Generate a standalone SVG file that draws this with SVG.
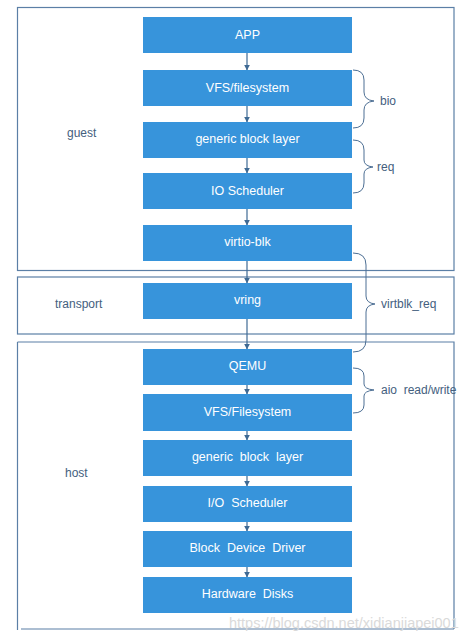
<svg xmlns="http://www.w3.org/2000/svg" width="474" height="641" viewBox="0 0 474 641">
<defs>
<style>
.sec{fill:none;stroke:#5b7fa6;stroke-width:1.2}
.box{fill:#3794db}
.bt{fill:#ffffff;font-family:"Liberation Sans",Arial,sans-serif;font-size:12.5px;text-anchor:middle;dominant-baseline:central}
.lb{fill:#44607e;font-family:"Liberation Sans",Arial,sans-serif;font-size:12px;dominant-baseline:central}
.ar{stroke:#3f6a94;stroke-width:1.2;fill:none;marker-end:url(#ah)}
.br{stroke:#4d6f94;stroke-width:1;fill:none}
.wm{fill:#dadada;font-family:"Liberation Sans",Arial,sans-serif;font-size:14.5px}
</style>
<marker id="ah" viewBox="0 0 10 10" refX="9" refY="5" markerWidth="6" markerHeight="6" markerUnits="userSpaceOnUse" orient="auto">
<path d="M0,0 L10,5 L0,10 z" fill="#3f6a94"/>
</marker>
</defs>
<rect width="474" height="641" fill="#ffffff"/>
<g id="sections">
<rect class="sec" x="17.5" y="7.5" width="436.5" height="263"/>
<rect class="sec" x="17.5" y="277" width="436.5" height="57"/>
<path class="sec" d="M17.5,342 H454 V629 M17.5,342 V630 M21,629 H454"/>
</g>
<g id="connectors">
<line class="ar" x1="247" y1="53" x2="247" y2="70"/>
<line class="ar" x1="247" y1="106" x2="247" y2="122"/>
<line class="ar" x1="247" y1="158" x2="247" y2="173"/>
<line class="ar" x1="247" y1="209" x2="247" y2="225"/>
<line class="ar" x1="247" y1="261" x2="247" y2="283"/>
<line class="ar" x1="247" y1="319" x2="247" y2="349"/>
<line class="ar" x1="247" y1="385" x2="247" y2="394"/>
<line class="ar" x1="247" y1="431" x2="247" y2="440"/>
<line class="ar" x1="247" y1="476" x2="247" y2="486"/>
<line class="ar" x1="247" y1="522" x2="247" y2="531"/>
<line class="ar" x1="247" y1="567" x2="247" y2="577"/>
</g>
<g id="braces">
<path class="br" d="M353,70 Q364,70 364,80 V92 Q364,100 374,101 Q364,102 364,110 V118 Q364,128 353,128"/>
<path class="br" d="M353,140 Q364,140 364,150 V160 Q364,166 373,167 Q364,168 364,174 V183 Q364,193 353,193"/>
<path class="br" d="M353,253 Q366,253 366,265 V296 Q366,303 375,304 Q366,305 366,312 V340 Q366,352 353,352"/>
<path class="br" d="M353,368 Q364,368 364,376 V384 Q364,389 374,390 Q364,391 364,396 V405 Q364,413 353,413"/>
</g>
<g id="labels">
<text class="lb" x="67" y="133">guest</text>
<text class="lb" x="55" y="304">transport</text>
<text class="lb" x="65" y="473">host</text>
<text class="lb" x="380" y="101">bio</text>
<text class="lb" x="377" y="167">req</text>
<text class="lb" x="381" y="304">virtblk_req</text>
<text class="lb" x="381" y="390" xml:space="preserve">aio  read/write</text>
</g>
<g id="n-app"><rect class="box" x="143" y="17" width="209" height="36"/><text class="bt" x="247.5" y="35">APP</text></g>
<g id="n-vfs-guest"><rect class="box" x="143" y="70" width="209" height="36"/><text class="bt" x="247.5" y="88">VFS/filesystem</text></g>
<g id="n-gbl-guest"><rect class="box" x="143" y="122" width="209" height="36"/><text class="bt" x="247.5" y="139">generic block layer</text></g>
<g id="n-io-guest"><rect class="box" x="143" y="173" width="209" height="36"/><text class="bt" x="247.5" y="191">IO Scheduler</text></g>
<g id="n-virtio"><rect class="box" x="143" y="225" width="209" height="36"/><text class="bt" x="247.5" y="242">virtio-blk</text></g>
<g id="n-vring"><rect class="box" x="143" y="283" width="209" height="36"/><text class="bt" x="247.5" y="300">vring</text></g>
<g id="n-qemu"><rect class="box" x="143" y="349" width="209" height="36"/><text class="bt" x="247.5" y="366">QEMU</text></g>
<g id="n-vfs-host"><rect class="box" x="143" y="394" width="209" height="37"/><text class="bt" x="247.5" y="412">VFS/Filesystem</text></g>
<g id="n-gbl-host"><rect class="box" x="143" y="440" width="209" height="36"/><text class="bt" x="247.5" y="457" xml:space="preserve">generic  block  layer</text></g>
<g id="n-io-host"><rect class="box" x="143" y="486" width="209" height="36"/><text class="bt" x="247.5" y="503" xml:space="preserve">I/O  Scheduler</text></g>
<g id="n-bdd"><rect class="box" x="143" y="531" width="209" height="36"/><text class="bt" x="247.5" y="548" xml:space="preserve">Block  Device  Driver</text></g>
<g id="n-hw"><rect class="box" x="143" y="577" width="209" height="36"/><text class="bt" x="247.5" y="594" xml:space="preserve">Hardware  Disks</text></g>
<text class="wm" x="229" y="628">https://blog.csdn.net/xidianjiapei001</text>
</svg>
